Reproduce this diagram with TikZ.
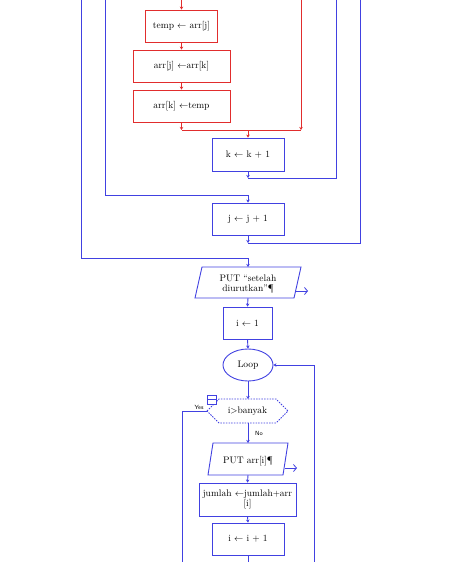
\documentclass[tikz,border=0pt]{standalone}
\usetikzlibrary{shapes.geometric,arrows.meta}
\definecolor{fb}{RGB}{65,65,225}
\definecolor{fr}{RGB}{225,45,45}
\begin{document}
\begin{tikzpicture}[x=1pt,y=-1pt,
  font=\fontsize{9.5}{10.5}\selectfont,
  box/.style={rectangle, inner sep=1pt, line width=0.9pt, align=center},
  bl/.style={draw=fb, line width=0.9pt},
  rd/.style={draw=fr, line width=0.9pt},
  tip/.style={-{Stealth[length=3pt,width=3.5pt]}},
  outarrow/.style={draw=fb, line width=0.8pt, -{Straight Barb[length=3pt,width=7pt]}},
  txt/.style={inner sep=0pt, align=center},
  small/.style={font=\sffamily\fontsize{6}{7}\selectfont, inner sep=0pt}]
\useasboundingbox (0,0) rectangle (474,562);

% ---------- red inner block ----------
\node[box, draw=fr, minimum width=72, minimum height=32] (temp) at (181.5,26) {temp $\leftarrow$ arr[j]};
\node[box, draw=fr, minimum width=97, minimum height=32] (arrj) at (181.5,66) {arr[j] $\leftarrow$arr[k]};
\node[box, draw=fr, minimum width=97, minimum height=32] (arrk) at (181.5,106) {arr[k] $\leftarrow$temp};

\coordinate (rt1) at (181.5,0);
\coordinate (rt2) at (301,0);
\coordinate (rj) at (181.5,130);
\coordinate (rr) at (301,130);
\coordinate (rm) at (248,130);
\draw[rd,tip] (rt1) -- (temp.north);
\draw[rd,tip] (temp.south) -- (arrj.north);
\draw[rd,tip] (arrj.south) -- (arrk.north);
\draw[rd,tip] (arrk.south) -- (rj);
\draw[rd,tip] (rt2) -- (rr);
\draw[rd] (rj) -- (rr);

% ---------- k loop ----------
\node[box, draw=fb, minimum width=72, minimum height=33] (kinc) at (248,154.5) {k $\leftarrow$ k + 1};
\draw[rd,tip] (rm) -- (kinc.north);
\coordinate (kb) at (248,178);
\coordinate (kr) at (336,178);
\coordinate (kt) at (336,0);
\draw[bl,tip] (kinc.south) -- (kb);
\draw[bl] (kb) -- (kr) -- (kt);

% ---------- j loop ----------
\node[box, draw=fb, minimum width=72, minimum height=32] (jinc) at (248,219) {j $\leftarrow$ j + 1};
\coordinate (jt) at (105,0);
\coordinate (jl) at (105,195);
\coordinate (jm) at (248,195);
\draw[bl] (jt) -- (jl) -- (jm);
\draw[bl,tip] (jm) -- (jinc.north);
\coordinate (jb) at (248,243);
\coordinate (jr) at (360,243);
\coordinate (jrt) at (360,0);
\draw[bl,tip] (jinc.south) -- (jb);
\draw[bl] (jb) -- (jr) -- (jrt);

% ---------- outer ----------
\coordinate (ot) at (81,0);
\coordinate (ol) at (81,258);
\coordinate (om) at (248,258);
\draw[bl] (ot) -- (ol) -- (om);

% PUT "setelah diurutkan"
\draw[bl] (195,298) -- (202,267) -- (301,267) -- (294,298) -- cycle;
\node[txt] (put1) at (248,284) {PUT ``setelah\\diurutkan''\P};
\coordinate (put1t) at (248,267);
\coordinate (put1b) at (248,298);
\draw[bl,tip] (om) -- (put1t);
\coordinate (o1a) at (296,291);
\coordinate (o1b) at (308,291);
\draw[outarrow] (o1a) -- (o1b);

\node[box, draw=fb, minimum width=49, minimum height=32] (ione) at (247.5,323) {i $\leftarrow$ 1};
\draw[bl,tip] (put1b) -- (ione.north);

\node[draw=fb, line width=0.9pt, ellipse, minimum width=50, minimum height=32, inner sep=0pt] (loop) at (248,365) {Loop};
\draw[bl,tip] (ione.south) -- (loop.north);

% decision
\draw[draw=fb, line width=0.8pt, dash pattern=on 1.5pt off 1.2pt]
  (207,411) -- (219,399) -- (276,399) -- (288,411) -- (276,423) -- (219,423) -- cycle;
\node[txt] (dec) at (247.5,411) {i$>$banyak};
\coordinate (dect) at (248,399);
\coordinate (decb) at (248,423);
\coordinate (decl) at (207,411);
\draw[bl,tip] (loop.south) -- (dect);
\draw[bl, line width=0.8pt, fill=white] (207,395) rectangle (216,404);
\draw[bl, line width=0.8pt] (207,399.5) -- (216,399.5);
\node[small] (yes) at (199,407) {Yes};
\node[small] (no) at (259,433) {No};

% Yes branch
\coordinate (yl) at (182,411);
\coordinate (yb) at (182,562);
\draw[bl] (decl) -- (yl) -- (yb);

% loop back
\coordinate (lb) at (314,562);
\coordinate (lr) at (314,365);
\draw[bl] (lb) -- (lr);
\draw[bl,tip] (lr) -- (loop.east);

% PUT arr[i]
\draw[bl] (208,475) -- (213,443) -- (288,443) -- (283,475) -- cycle;
\node[txt] (put2) at (248,461) {PUT arr[i]\P};
\coordinate (put2t) at (248,443);
\coordinate (put2b) at (248,475);
\draw[bl,tip] (decb) -- (put2t);
\coordinate (o2a) at (285,468);
\coordinate (o2b) at (297,468);
\draw[outarrow] (o2a) -- (o2b);

\node[box, draw=fb, minimum width=97, minimum height=33] (jum) at (247.5,499.5) {jumlah $\leftarrow$jumlah$+$arr\\{}[i]};
\draw[bl,tip] (put2b) -- (jum.north);

\node[box, draw=fb, minimum width=72, minimum height=32] (iinc) at (248,539) {i $\leftarrow$ i + 1};
\draw[bl,tip] (jum.south) -- (iinc.north);
\coordinate (ib) at (248,562);
\draw[bl] (iinc.south) -- (ib);
\end{tikzpicture}
\end{document}
